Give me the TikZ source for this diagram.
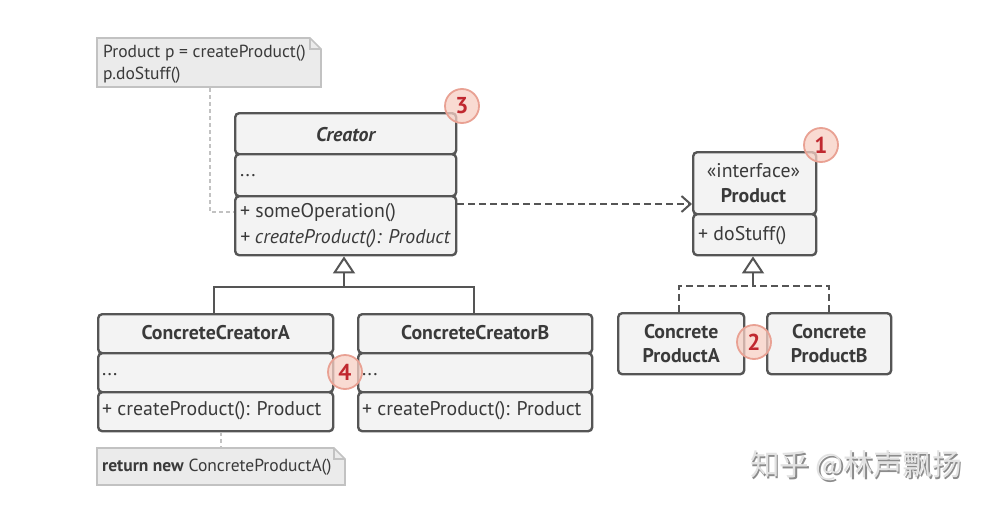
\documentclass[tikz,border=0pt]{standalone}
\usepackage{fontspec}
\setmainfont{PT Sans}
\newfontfamily\cjkfont{Noto Sans CJK SC}
\usetikzlibrary{arrows.meta,calc}
\definecolor{boxfill}{HTML}{F3F3F3}
\definecolor{boxline}{HTML}{555555}
\definecolor{txt}{HTML}{3A3A3A}
\definecolor{notefill}{HTML}{EBEBEB}
\definecolor{noteline}{HTML}{C2C2C2}
\definecolor{badgefill}{HTML}{F7CFC4}
\definecolor{badgeline}{HTML}{E9A193}
\definecolor{badgetxt}{HTML}{C0282F}
\definecolor{wm}{HTML}{E2E2E2}
\tikzset{
  comp/.style={draw=boxline, fill=boxfill, line width=2.4pt, rounded corners=4pt, inner sep=0pt, anchor=north west},
  ltxt/.style={text=txt, anchor=west, inner sep=0pt, font=\fontsize{19.8}{23}\selectfont},
  ntxt/.style={text=txt, anchor=west, inner sep=0pt, font=\fontsize{17.5}{20}\selectfont},
  ctxt/.style={text=txt, inner sep=0pt, font=\fontsize{19.8}{23}\selectfont\bfseries},
  badge/.style={circle, draw=badgeline, fill=badgefill, fill opacity=0.75, text opacity=1, line width=1.8pt, minimum size=34pt, inner sep=0pt, text=badgetxt, font=\fontsize{23}{25}\selectfont\bfseries},
  conn/.style={draw=boxline, line width=2pt},
  dconn/.style={draw=boxline, line width=2pt, dash pattern=on 7pt off 4pt},
  notedash/.style={draw=noteline, line width=1.6pt, dash pattern=on 4pt off 3pt},
  inh/.style={-{Triangle[open, length=17pt, width=22pt, line width=2pt]}},
  wmstyle/.style={inner sep=0pt, anchor=west, font=\cjkfont\fontsize{29.5}{32}\selectfont},
}
\begin{document}
\begin{tikzpicture}[x=1pt,y=-1pt]
\useasboundingbox (0,0) rectangle (988,506);
\fill[white] (0,0) rectangle (988,506);

% ---- Note 1
\path[draw=noteline, fill=notefill, line width=1.6pt]
  (97,38) -- (310,38) -- (321,49) -- (321,87) -- (97,87) -- cycle;
\draw[noteline, line width=1.6pt] (310,38) -- (310,49) -- (321,49);
\node[ntxt] (note1a) at (103,53) {Product p = createProduct()};
\node[ntxt] (note1b) at (103,75) {p.doStuff()};
\coordinate (note1) at (210,88);

% ---- Note 2
\path[draw=noteline, fill=notefill, line width=1.6pt]
  (97,448) -- (334,448) -- (345,459) -- (345,485) -- (97,485) -- cycle;
\draw[noteline, line width=1.6pt] (334,448) -- (334,459) -- (345,459);
\node[ntxt] (note2) at (102,467.5) {\textbf{return new} ConcreteProductA()};
\coordinate (note2top) at (221,448);

% ---- Creator
\node[comp, minimum width=221pt, minimum height=41pt] (creatorH) at (234,112) {};
\node[comp, minimum width=221pt, minimum height=42pt] (creatorA) at (234,153) {};
\node[comp, minimum width=221pt, minimum height=59pt] (creatorM) at (234,195) {};
\node[ctxt, font=\fontsize{19.8}{23}\selectfont\bfseries\itshape] at ($(creatorH.center)+(0,1)$) {Creator};
\node[ltxt] at (240,176) {...};
\node[ltxt] at (240,213) {+ someOperation()};
\node[ltxt] at (240,239) {\itshape + createProduct(): Product};

% ---- Product
\node[comp, minimum width=123pt, minimum height=62pt] (productH) at (692,151) {};
\node[comp, minimum width=123pt, minimum height=41pt] (productM) at (692,213) {};
\node[text=txt, inner sep=0pt, font=\fontsize{19.8}{23}\selectfont] at (753.5,171) {«interface»};
\node[ctxt] at (753.5,196) {Product};
\node[ltxt] at (698,236) {+ doStuff()};

% ---- ConcreteCreatorA
\node[comp, minimum width=235pt, minimum height=39pt] (ccaH) at (97,313) {};
\node[comp, minimum width=235pt, minimum height=39pt] (ccaA) at (97,352) {};
\node[comp, minimum width=235pt, minimum height=39pt] (ccaM) at (97,391) {};
\node[ctxt] at ($(ccaH.center)+(0,-1)$) {ConcreteCreatorA};
\node[ltxt] at (102,375) {...};
\node[ltxt] at (102,411) {+ createProduct(): Product};

% ---- ConcreteCreatorB
\node[comp, minimum width=234pt, minimum height=39pt] (ccbH) at (357,313) {};
\node[comp, minimum width=234pt, minimum height=39pt] (ccbA) at (357,352) {};
\node[comp, minimum width=234pt, minimum height=39pt] (ccbM) at (357,391) {};
\node[ctxt] at ($(ccbH.center)+(0,-1)$) {ConcreteCreatorB};
\node[ltxt] at (362,375) {...};
\node[ltxt] at (362,411) {+ createProduct(): Product};

% ---- Concrete products
\node[comp, minimum width=126pt, minimum height=61pt] (cpa) at (617,312) {};
\node[ctxt, align=center, font=\fontsize{19.8}{24}\selectfont\bfseries] at (cpa.center) {Concrete\\ProductA};
\node[comp, minimum width=124pt, minimum height=61pt] (cpb) at (766,312) {};
\node[ctxt, align=center, font=\fontsize{19.8}{24}\selectfont\bfseries] at (cpb.center) {Concrete\\ProductB};

% ---- Connectors
\coordinate (arrowy) at (0,204);
\draw[dconn, -{Straight Barb[length=9pt, width=16pt, line width=2pt]}] (creatorM.east |- arrowy) -- (productH.west |- arrowy);

% Creator inheritance
\coordinate (cjoin) at (344,287);
\draw[conn] (ccaH.north -| 214,0) |- (cjoin) -| (ccbH.north -| 474,0);
\draw[conn, inh] (cjoin) -- (creatorM.south -| cjoin);

% Product realization
\coordinate (pjoin) at (753,286);
\draw[dconn] (cpa.north -| 679,0) |- (pjoin);
\draw[dconn] (cpb.north -| 829,0) |- (pjoin);
\draw[conn, inh] (pjoin) -- (productM.south -| pjoin);

% Note connectors
\draw[notedash] (note1) |- (creatorM.west |- 0,212);
\draw[notedash] (ccaM.south -| note2top) -- (note2top);

% ---- Badges
\node[badge] (b3) at (462,106) {3};
\node[badge] (b1) at (821,145) {1};
\node[badge] (b2) at (754,342) {2};
\node[badge] (b4) at (345,372) {4};

% ---- Watermark
\node[wmstyle, text=black!45] at (751.5,467.5) {知乎 @林声飘扬};
\node[wmstyle, text=wm] (wmark) at (750,466) {知乎 @林声飘扬};
\end{tikzpicture}
\end{document}
